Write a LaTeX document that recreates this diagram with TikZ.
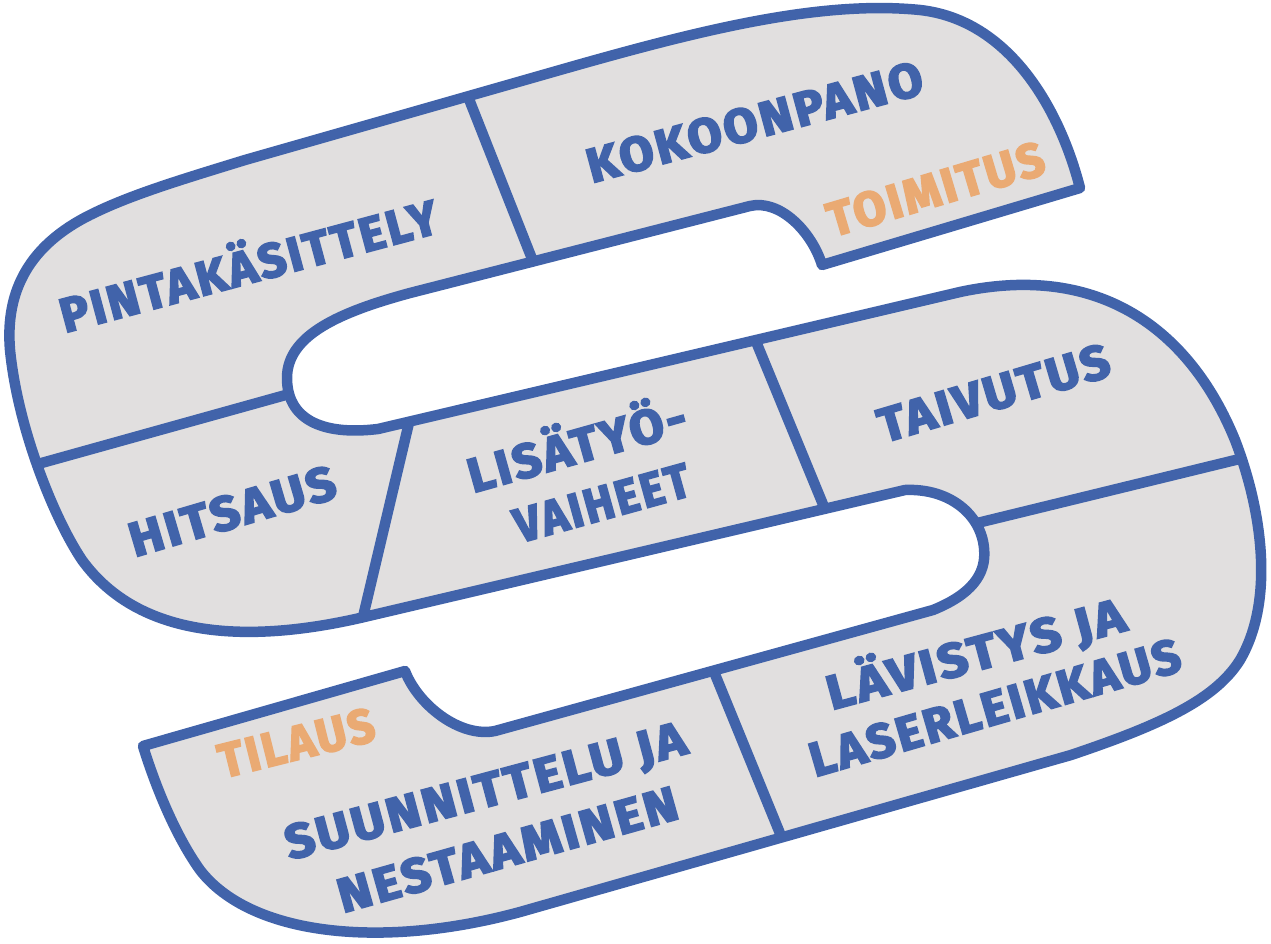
\documentclass[tikz,border=0pt]{standalone}
\usepackage{fontspec}
\usepackage{graphicx}
\newfontfamily\Sfont{Fira Sans}[LetterSpace=6, FakeBold=4]
\definecolor{sblue}{RGB}{65,99,170}
\definecolor{sgray}{RGB}{225,223,223}
\definecolor{sorange}{RGB}{234,170,115}
\newcommand\fitto[2]{\resizebox{#1pt}{\height}{#2}}
\tikzset{
  lbl/.style={text=sblue, inner sep=0pt, anchor=base,
    font=\Sfont\bfseries\fontsize{48}{48}\selectfont},
  olbl/.style={lbl, text=sorange},
  divider/.style={draw=sblue, line width=10.5pt},
  outline/.style={draw=sblue, line width=10.5pt, line join=round}
}
\begin{document}
\begin{tikzpicture}[x=1pt,y=-1pt]
\useasboundingbox (0,0) rectangle (1271,944);
\path[save path=\Sout]
  (1080,188) -- (822,265)
  .. controls (812,232) and (780,199) .. (750,206)
  -- (410,293)
  .. controls (340,312) and (287,335) .. (287,378)
  .. controls (287,418) and (320,436) .. (378,429)
  -- (960,292)
  .. controls (1100,262) and (1190,330) .. (1235,440)
  .. controls (1262,510) and (1275,600) .. (1240,660)
  .. controls (1215,700) and (1160,725) .. (1071,755)
  -- (520,912)
  .. controls (380,950) and (250,935) .. (200,870)
  .. controls (175,835) and (155,785) .. (143,746)
  -- (405,671)
  .. controls (418,705) and (460,738) .. (495,731)
  -- (933,610)
  .. controls (970,595) and (987,575) .. (984,548)
  .. controls (981,515) and (950,488) .. (905,490)
  -- (360,618)
  .. controls (250,643) and (140,640) .. (82,560)
  .. controls (55,520) and (18,430) .. (10,350)
  .. controls (5,290) and (30,245) .. (90,215)
  .. controls (130,195) and (180,180) .. (245,160)
  -- (560,70)
  .. controls (700,30) and (820,0) .. (920,10)
  .. controls (1010,20) and (1060,110) .. (1080,188)
  -- cycle;
\fill[sgray, use path=\Sout];
\begin{scope}
  \clip[use path=\Sout];
  \draw[divider] (463,84) -- (538,274);
  \draw[divider] (20,469) -- (300,391);
  \draw[divider] (412,410) -- (358,638);
  \draw[divider] (750,327) -- (829,519);
  \draw[divider] (965,526) -- (1260,454);
  \draw[divider] (710,662) -- (788,853);
\end{scope}
\draw[outline, use path=\Sout];
\node[lbl, rotate=15.0] (pinta) at (253,282.5) {\fitto{389}{PINTAKÄSITTELY}};
\node[lbl, rotate=15.1] (kokoon) at (759,138) {\fitto{346}{KOKOONPANO}};
\node[olbl, rotate=16.6] (toimitus) at (940.5,205) {\fitto{224}{TOIMITUS}};
\node[lbl, rotate=16.5] (taivutus) at (998.5,409) {\fitto{239}{TAIVUTUS}};
\node[lbl, rotate=16.4] (hitsaus) at (237,527) {\fitto{213}{HITSAUS}};
\node[lbl, rotate=15.7] (lisa) at (581.5,462.5) {\fitto{225}{LISÄTYÖ-}};
\node[lbl, rotate=15.5] (vaiheet) at (606.5,519) {\fitto{180}{VAIHEET}};
\node[lbl, rotate=15.1] (lavistys) at (980,670) {\fitto{307}{LÄVISTYS JA}};
\node[lbl, rotate=16.2] (laser) at (999.5,723.5) {\fitto{384}{LASERLEIKKAUS}};
\node[olbl, rotate=14.0] (tilaus) at (300.5,759) {\fitto{159}{TILAUS}};
\node[lbl, rotate=15.0] (suunn) at (489.5,806.5) {\fitto{413}{SUUNNITTELU JA}};
\node[lbl, rotate=15.7] (nesta) at (512,865.5) {\fitto{351}{NESTAAMINEN}};
\end{tikzpicture}
\end{document}
